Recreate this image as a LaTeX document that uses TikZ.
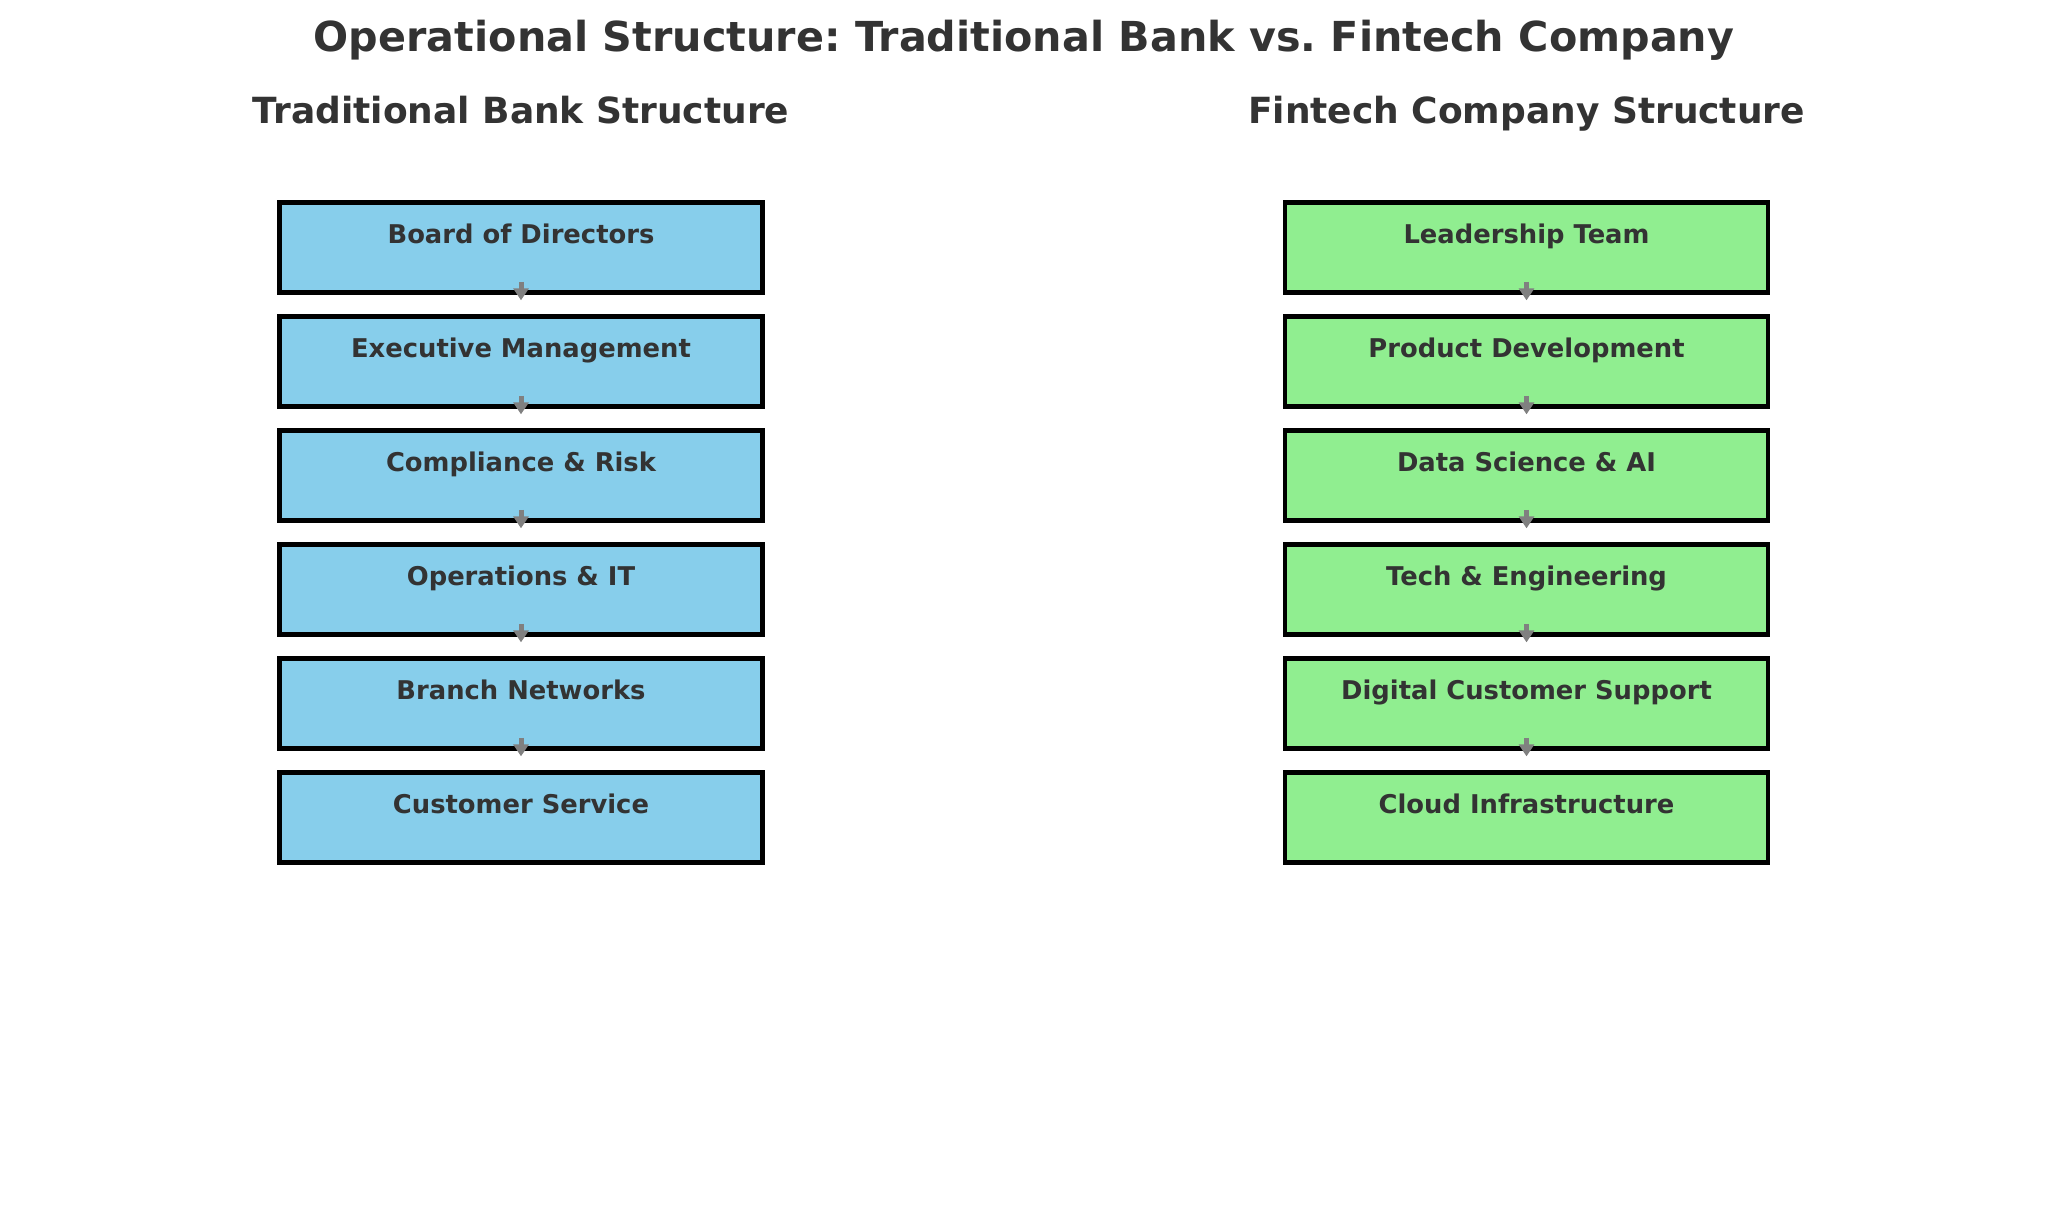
\documentclass[tikz,border=0pt]{standalone}
\usepackage{fontspec}
\setmainfont{DejaVu Sans}
\usetikzlibrary{arrows.meta}
\definecolor{inkgray}{HTML}{333333}
\definecolor{bankblue}{HTML}{87CEEB}
\definecolor{finlime}{HTML}{90EE90}
\definecolor{arrowgray}{HTML}{808080}
\frenchspacing

\begin{document}
\begin{tikzpicture}[x=0.5pt,y=-0.5pt,
                    title/.style={font=\bfseries\fontsize{20.65}{24}\selectfont,text=inkgray,anchor=base},
                    subtitle/.style={font=\bfseries\fontsize{18}{21}\selectfont,text=inkgray,anchor=base},
                    unit/.style={rectangle,draw=black,line width=2.35pt,minimum width=241.5pt,
                                 inner sep=0pt,text height=20.25pt,text depth=24.75pt,
                                 font=\bfseries\fontsize{12.9}{15}\selectfont,text=inkgray},
                    bank/.style={unit,fill=bankblue},
                    fin/.style={unit,fill=finlime},
                    flow/.style={arrowgray,line width=2.5pt,-{Triangle[width=7.5pt,length=6pt]}}]

  \useasboundingbox (0,0) rectangle (2048,1225);

  % titles
  \node[title]    (main)   at (1024,51.7)  {Operational Structure: Traditional Bank vs. Fintech Company};
  \node[subtitle] (bankt)  at (521,123.3)  {Traditional Bank Structure};
  \node[subtitle] (fint)   at (1526.5,123.3) {Fintech Company Structure};

  % traditional bank column
  \node[bank] (board)  at (521,247.5) {Board of Directors};
  \node[bank] (exec)   at (521,361.5) {Executive Management};
  \node[bank] (compl)  at (521,475.5) {Compliance \& Risk};
  \node[bank] (ops)    at (521,589.5) {Operations \& IT};
  \node[bank] (branch) at (521,703.5) {Branch Networks};
  \node[bank] (cust)   at (521,817.5) {Customer Service};

  % fintech column
  \node[fin] (lead)    at (1526.5,247.5) {Leadership Team};
  \node[fin] (prod)    at (1526.5,361.5) {Product Development};
  \node[fin] (data)    at (1526.5,475.5) {Data Science \& AI};
  \node[fin] (tech)    at (1526.5,589.5) {Tech \& Engineering};
  \node[fin] (support) at (1526.5,703.5) {Digital Customer Support};
  \node[fin] (cloud)   at (1526.5,817.5) {Cloud Infrastructure};

  % arrows down each column
  \draw[flow] ([yshift=6.5pt]board.south)  -- ([yshift=6.9pt]exec.north);
  \draw[flow] ([yshift=6.5pt]exec.south)   -- ([yshift=6.9pt]compl.north);
  \draw[flow] ([yshift=6.5pt]compl.south)  -- ([yshift=6.9pt]ops.north);
  \draw[flow] ([yshift=6.5pt]ops.south)    -- ([yshift=6.9pt]branch.north);
  \draw[flow] ([yshift=6.5pt]branch.south) -- ([yshift=6.9pt]cust.north);

  \draw[flow] ([yshift=6.5pt]lead.south)    -- ([yshift=6.9pt]prod.north);
  \draw[flow] ([yshift=6.5pt]prod.south)    -- ([yshift=6.9pt]data.north);
  \draw[flow] ([yshift=6.5pt]data.south)    -- ([yshift=6.9pt]tech.north);
  \draw[flow] ([yshift=6.5pt]tech.south)    -- ([yshift=6.9pt]support.north);
  \draw[flow] ([yshift=6.5pt]support.south) -- ([yshift=6.9pt]cloud.north);
\end{tikzpicture}
\end{document}
